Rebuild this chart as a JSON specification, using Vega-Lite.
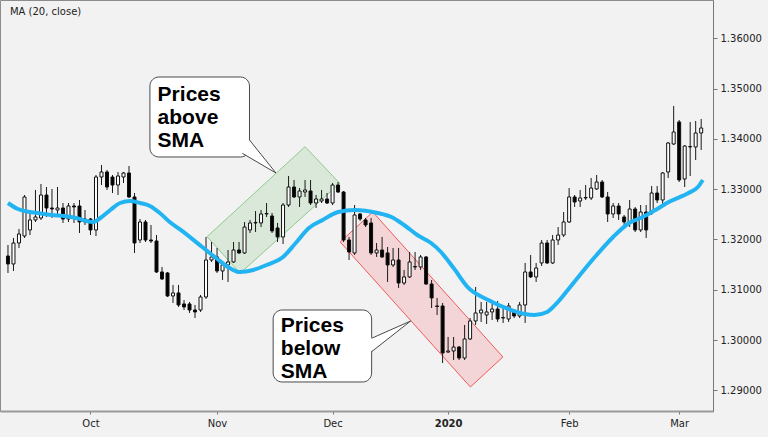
{
  "$schema": "https://vega.github.io/schema/vega-lite/v6.json",
  "width": 713,
  "height": 411,
  "autosize": {"type": "none"},
  "padding": {"left": 0, "top": 0, "right": 55, "bottom": 26},
  "background": "#f2f2f2",
  "config": {
    "view": {"stroke": "#8c8c8c", "strokeWidth": 1},
    "axis": {"labelFont": "DejaVu Sans", "labelFontSize": 10, "labelColor": "#222222", "grid": false, "title": null}
  },
  "datasets": {
    "candles": [
      {"i":0,"o":1.31672,"h":1.31891,"l":1.31334,"c":1.31513},
      {"i":1,"o":1.31513,"h":1.32030,"l":1.31374,"c":1.31930},
      {"i":2,"o":1.31930,"h":1.32209,"l":1.31831,"c":1.32109},
      {"i":3,"o":1.32069,"h":1.32884,"l":1.32030,"c":1.32845},
      {"i":4,"o":1.32189,"h":1.32527,"l":1.32089,"c":1.32388},
      {"i":5,"o":1.32388,"h":1.32984,"l":1.32348,"c":1.32447},
      {"i":6,"o":1.32427,"h":1.33103,"l":1.32388,"c":1.32884},
      {"i":7,"o":1.32884,"h":1.33043,"l":1.32447,"c":1.32626},
      {"i":8,"o":1.32626,"h":1.33004,"l":1.32427,"c":1.32606},
      {"i":9,"o":1.32586,"h":1.33043,"l":1.32447,"c":1.32626},
      {"i":10,"o":1.32626,"h":1.32725,"l":1.32328,"c":1.32407},
      {"i":11,"o":1.32407,"h":1.32725,"l":1.32348,"c":1.32666},
      {"i":12,"o":1.32666,"h":1.32725,"l":1.32328,"c":1.32646},
      {"i":13,"o":1.32666,"h":1.32785,"l":1.32129,"c":1.32348},
      {"i":14,"o":1.32348,"h":1.32586,"l":1.32288,"c":1.32407},
      {"i":15,"o":1.32407,"h":1.32427,"l":1.32089,"c":1.32189},
      {"i":16,"o":1.32189,"h":1.33282,"l":1.32069,"c":1.33242},
      {"i":17,"o":1.33242,"h":1.33481,"l":1.33083,"c":1.33342},
      {"i":18,"o":1.33342,"h":1.33382,"l":1.32984,"c":1.33043},
      {"i":19,"o":1.33242,"h":1.33282,"l":1.32924,"c":1.33083},
      {"i":20,"o":1.33083,"h":1.33342,"l":1.32884,"c":1.33262},
      {"i":21,"o":1.33242,"h":1.33342,"l":1.33123,"c":1.33322},
      {"i":22,"o":1.33322,"h":1.33461,"l":1.32825,"c":1.32845},
      {"i":23,"o":1.32845,"h":1.32924,"l":1.31732,"c":1.31930},
      {"i":24,"o":1.31990,"h":1.32407,"l":1.31930,"c":1.32348},
      {"i":25,"o":1.32348,"h":1.32388,"l":1.31950,"c":1.31990},
      {"i":26,"o":1.31990,"h":1.32288,"l":1.31930,"c":1.31970},
      {"i":27,"o":1.31970,"h":1.32089,"l":1.31334,"c":1.31354},
      {"i":28,"o":1.31354,"h":1.31453,"l":1.31195,"c":1.31215},
      {"i":29,"o":1.31334,"h":1.31354,"l":1.30857,"c":1.30877},
      {"i":30,"o":1.30877,"h":1.31096,"l":1.30738,"c":1.30937},
      {"i":31,"o":1.30937,"h":1.31096,"l":1.30658,"c":1.30698},
      {"i":32,"o":1.30718,"h":1.30797,"l":1.30598,"c":1.30658},
      {"i":33,"o":1.30718,"h":1.30758,"l":1.30539,"c":1.30598},
      {"i":34,"o":1.30598,"h":1.30698,"l":1.30439,"c":1.30559},
      {"i":35,"o":1.30598,"h":1.30897,"l":1.30559,"c":1.30857},
      {"i":36,"o":1.30857,"h":1.32050,"l":1.30817,"c":1.31592},
      {"i":37,"o":1.31592,"h":1.31950,"l":1.31553,"c":1.31652},
      {"i":38,"o":1.31652,"h":1.31831,"l":1.31334,"c":1.31374},
      {"i":39,"o":1.31374,"h":1.31553,"l":1.31195,"c":1.31493},
      {"i":40,"o":1.31493,"h":1.31791,"l":1.31155,"c":1.31553},
      {"i":41,"o":1.31553,"h":1.31950,"l":1.31533,"c":1.31791},
      {"i":42,"o":1.31791,"h":1.31950,"l":1.31712,"c":1.31732},
      {"i":43,"o":1.31732,"h":1.32348,"l":1.31712,"c":1.32248},
      {"i":44,"o":1.32189,"h":1.32388,"l":1.32129,"c":1.32328},
      {"i":45,"o":1.32328,"h":1.32566,"l":1.32149,"c":1.32338},
      {"i":46,"o":1.32328,"h":1.32586,"l":1.32248,"c":1.32507},
      {"i":47,"o":1.32507,"h":1.32725,"l":1.32447,"c":1.32517},
      {"i":48,"o":1.32467,"h":1.32527,"l":1.32129,"c":1.32169},
      {"i":49,"o":1.32229,"h":1.32328,"l":1.31950,"c":1.32050},
      {"i":50,"o":1.32050,"h":1.32725,"l":1.31910,"c":1.32685},
      {"i":51,"o":1.32685,"h":1.33262,"l":1.32646,"c":1.33043},
      {"i":52,"o":1.33043,"h":1.33183,"l":1.32825,"c":1.32845},
      {"i":53,"o":1.32845,"h":1.33023,"l":1.32646,"c":1.32964},
      {"i":54,"o":1.32944,"h":1.33183,"l":1.32845,"c":1.32984},
      {"i":55,"o":1.32964,"h":1.33183,"l":1.32685,"c":1.32725},
      {"i":56,"o":1.32725,"h":1.32884,"l":1.32626,"c":1.32805},
      {"i":57,"o":1.32765,"h":1.32984,"l":1.32725,"c":1.32805},
      {"i":58,"o":1.32805,"h":1.32924,"l":1.32705,"c":1.32725},
      {"i":59,"o":1.32725,"h":1.33123,"l":1.32685,"c":1.33083},
      {"i":60,"o":1.33083,"h":1.33143,"l":1.32924,"c":1.32944},
      {"i":61,"o":1.32944,"h":1.32964,"l":1.31950,"c":1.31990},
      {"i":62,"o":1.31990,"h":1.32050,"l":1.31592,"c":1.31751},
      {"i":63,"o":1.31732,"h":1.32685,"l":1.31692,"c":1.32487},
      {"i":64,"o":1.32507,"h":1.32527,"l":1.32368,"c":1.32407},
      {"i":65,"o":1.32388,"h":1.32427,"l":1.32248,"c":1.32288},
      {"i":66,"o":1.32328,"h":1.32427,"l":1.31692,"c":1.31732},
      {"i":67,"o":1.31732,"h":1.31930,"l":1.31652,"c":1.31791},
      {"i":68,"o":1.31791,"h":1.32050,"l":1.31632,"c":1.31652},
      {"i":69,"o":1.31732,"h":1.31851,"l":1.31155,"c":1.31493},
      {"i":70,"o":1.31493,"h":1.31831,"l":1.31453,"c":1.31592},
      {"i":71,"o":1.31592,"h":1.31831,"l":1.31036,"c":1.31135},
      {"i":72,"o":1.31135,"h":1.31394,"l":1.31096,"c":1.31255},
      {"i":73,"o":1.31255,"h":1.31751,"l":1.31235,"c":1.31553},
      {"i":74,"o":1.31453,"h":1.31751,"l":1.31394,"c":1.31463},
      {"i":75,"o":1.31453,"h":1.31692,"l":1.31394,"c":1.31652},
      {"i":76,"o":1.31652,"h":1.31672,"l":1.31096,"c":1.31115},
      {"i":77,"o":1.31115,"h":1.31195,"l":1.30638,"c":1.30837},
      {"i":78,"o":1.30678,"h":1.30837,"l":1.30499,"c":1.30668},
      {"i":79,"o":1.30678,"h":1.30738,"l":1.29544,"c":1.29743},
      {"i":80,"o":1.29763,"h":1.30062,"l":1.29743,"c":1.29783},
      {"i":81,"o":1.29783,"h":1.30062,"l":1.29604,"c":1.29862},
      {"i":82,"o":1.29862,"h":1.29882,"l":1.29604,"c":1.29644},
      {"i":83,"o":1.29644,"h":1.30300,"l":1.29604,"c":1.30022},
      {"i":84,"o":1.30022,"h":1.30439,"l":1.30002,"c":1.30380},
      {"i":85,"o":1.30380,"h":1.31056,"l":1.30300,"c":1.30539},
      {"i":86,"o":1.30539,"h":1.30758,"l":1.30360,"c":1.30598},
      {"i":87,"o":1.30499,"h":1.30758,"l":1.30320,"c":1.30559},
      {"i":88,"o":1.30559,"h":1.30797,"l":1.30399,"c":1.30618},
      {"i":89,"o":1.30618,"h":1.30778,"l":1.30360,"c":1.30419},
      {"i":90,"o":1.30439,"h":1.30638,"l":1.30340,"c":1.30449},
      {"i":91,"o":1.30419,"h":1.30738,"l":1.30360,"c":1.30678},
      {"i":92,"o":1.30559,"h":1.30598,"l":1.30439,"c":1.30479},
      {"i":93,"o":1.30479,"h":1.30758,"l":1.30439,"c":1.30698},
      {"i":94,"o":1.30698,"h":1.31533,"l":1.30340,"c":1.31354},
      {"i":95,"o":1.31354,"h":1.31692,"l":1.31235,"c":1.31255},
      {"i":96,"o":1.31255,"h":1.31533,"l":1.31155,"c":1.31433},
      {"i":97,"o":1.31533,"h":1.31990,"l":1.31473,"c":1.31930},
      {"i":98,"o":1.31930,"h":1.31990,"l":1.31513,"c":1.31533},
      {"i":99,"o":1.31533,"h":1.32089,"l":1.31513,"c":1.31990},
      {"i":100,"o":1.31990,"h":1.32248,"l":1.31891,"c":1.32089},
      {"i":101,"o":1.32089,"h":1.32546,"l":1.32050,"c":1.32348},
      {"i":102,"o":1.32348,"h":1.33023,"l":1.32328,"c":1.32845},
      {"i":103,"o":1.32845,"h":1.32884,"l":1.32646,"c":1.32745},
      {"i":104,"o":1.32765,"h":1.32984,"l":1.32646,"c":1.32825},
      {"i":105,"o":1.32825,"h":1.33083,"l":1.32785,"c":1.32835},
      {"i":106,"o":1.32825,"h":1.33222,"l":1.32785,"c":1.33023},
      {"i":107,"o":1.33004,"h":1.33282,"l":1.32984,"c":1.33143},
      {"i":108,"o":1.33143,"h":1.33183,"l":1.32825,"c":1.32845},
      {"i":109,"o":1.32845,"h":1.32944,"l":1.32348,"c":1.32507},
      {"i":110,"o":1.32507,"h":1.32725,"l":1.32427,"c":1.32666},
      {"i":111,"o":1.32666,"h":1.32725,"l":1.32388,"c":1.32507},
      {"i":112,"o":1.32447,"h":1.32487,"l":1.32288,"c":1.32348},
      {"i":113,"o":1.32348,"h":1.32785,"l":1.32248,"c":1.32606},
      {"i":114,"o":1.32606,"h":1.32646,"l":1.32149,"c":1.32189},
      {"i":115,"o":1.32189,"h":1.32685,"l":1.32149,"c":1.32546},
      {"i":116,"o":1.32546,"h":1.32685,"l":1.32030,"c":1.32189},
      {"i":117,"o":1.32527,"h":1.33063,"l":1.32487,"c":1.32924},
      {"i":118,"o":1.32924,"h":1.33063,"l":1.32725,"c":1.32785},
      {"i":119,"o":1.32785,"h":1.33342,"l":1.32685,"c":1.33322},
      {"i":120,"o":1.33342,"h":1.33938,"l":1.33222,"c":1.33918},
      {"i":121,"o":1.33898,"h":1.34654,"l":1.33878,"c":1.34137},
      {"i":122,"o":1.34336,"h":1.34376,"l":1.33143,"c":1.33183},
      {"i":123,"o":1.33202,"h":1.33878,"l":1.33043,"c":1.33858},
      {"i":124,"o":1.33839,"h":1.34336,"l":1.33262,"c":1.33849},
      {"i":125,"o":1.33839,"h":1.34356,"l":1.33580,"c":1.34117},
      {"i":126,"o":1.34117,"h":1.34395,"l":1.33779,"c":1.34216}
    ],
    "sma": [
      {"i":0,"v":1.32725},{"i":1.8,"v":1.32606},{"i":3,"v":1.32566},{"i":5.4,"v":1.32527},
      {"i":7.9,"v":1.32487},{"i":10.2,"v":1.32467},{"i":12.4,"v":1.32427},{"i":14.2,"v":1.32368},
      {"i":15.6,"v":1.32348},{"i":16.8,"v":1.32427},{"i":18.6,"v":1.32586},{"i":20.4,"v":1.32725},
      {"i":22.2,"v":1.32765},{"i":24,"v":1.32725},{"i":25.8,"v":1.32666},{"i":27.6,"v":1.32527},
      {"i":29.4,"v":1.32348},{"i":31.4,"v":1.32189},{"i":35.3,"v":1.31851},{"i":37.6,"v":1.31652},
      {"i":40.3,"v":1.31433},{"i":42.1,"v":1.31354},{"i":44.6,"v":1.31394},{"i":47,"v":1.31493},
      {"i":50,"v":1.31652},{"i":52.3,"v":1.31930},{"i":54.7,"v":1.32229},{"i":57.2,"v":1.32388},
      {"i":60,"v":1.32546},{"i":63,"v":1.32586},{"i":67.2,"v":1.32527},{"i":69.7,"v":1.32447},
      {"i":72,"v":1.32288},{"i":74.4,"v":1.32089},{"i":76.9,"v":1.31930},{"i":78.7,"v":1.31751},
      {"i":81,"v":1.31433},{"i":83.7,"v":1.31036},{"i":87.3,"v":1.30797},{"i":90.9,"v":1.30618},
      {"i":93.9,"v":1.30519},{"i":95.7,"v":1.30499},{"i":98,"v":1.30559},{"i":99.8,"v":1.30738},
      {"i":102.2,"v":1.31056},{"i":104.7,"v":1.31394},{"i":107,"v":1.31692},{"i":110,"v":1.32050},
      {"i":112.9,"v":1.32328},{"i":115.4,"v":1.32447},{"i":117.7,"v":1.32586},{"i":120.1,"v":1.32745},
      {"i":123.7,"v":1.32924},{"i":125.4,"v":1.33043},{"i":126.3,"v":1.33183}
    ],
    "zones": [
      {"z":"above","i":36.2,"top":1.32056,"bot":1.32056},
      {"z":"above","i":42.2,"top":1.32659,"bot":1.31328},
      {"z":"above","i":54.0,"top":1.33845,"bot":1.32494},
      {"z":"above","i":60.3,"top":1.33117,"bot":1.33117},
      {"z":"below","i":60.39,"top":1.31950,"bot":1.31950},
      {"z":"below","i":66.31,"top":1.32546,"bot":1.31228},
      {"z":"below","i":84.05,"top":1.30384,"bot":1.29067},
      {"z":"below","i":89.96,"top":1.29664,"bot":1.29664}
    ],
    "boxes": [
      {"b":"above","i1":25.8,"i2":43.9,"p1":1.35230,"p2":1.33640,"ti":27.2,"tp":1.35091,"txt":"Prices\nabove\nSMA"},
      {"b":"below","i1":48.2,"i2":66.1,"p1":1.30598,"p2":1.29167,"ti":49.6,"tp":1.30499,"txt":"Prices\nbelow\nSMA"}
    ],
    "tailfill": [
      {"b":"above","i":42.6,"top":1.33713,"bot":1.33713},
      {"b":"above","i":43.9,"top":1.33978,"bot":1.33640},
      {"b":"above","i":48.7,"top":1.33322,"bot":1.33322},
      {"b":"below","i":65.9,"top":1.30036,"bot":1.29769},
      {"b":"below","i":73.2,"top":1.30380,"bot":1.30380}
    ],
    "tailline": [
      {"b":"above","k":1,"i":43.9,"p":1.33978},
      {"b":"above","k":2,"i":48.7,"p":1.33322},
      {"b":"above","k":3,"i":42.6,"p":1.33713},
      {"b":"below","k":1,"i":66.1,"p":1.30036},
      {"b":"below","k":2,"i":73.2,"p":1.30380},
      {"b":"below","k":3,"i":66.1,"p":1.29769}
    ],
    "label": [{"i":0.36,"p":1.36522,"txt":"MA (20, close)"}]
  },
  "layer": [
    {
      "data": {"name": "zones"},
      "transform": [{"filter": "datum.z == 'above'"}],
      "mark": {"type": "area", "interpolate": "linear", "fill": "#c5e0c5", "fillOpacity": 0.55, "stroke": "#8dcb8d", "strokeWidth": 1},
      "encoding": {
        "x": {"field": "i", "type": "quantitative", "scale": {"domain": [-0.54, 127.24], "nice": false, "zero": false},
          "axis": {"orient": "bottom", "values": [15, 38, 59, 80, 102, 122],
            "labelExpr": "datum.value == 15 ? 'Oct' : datum.value == 38 ? 'Nov' : datum.value == 59 ? 'Dec' : datum.value == 80 ? '2020' : datum.value == 102 ? 'Feb' : 'Mar'",
            "labelFontWeight": {"condition": {"test": "datum.value == 80", "value": "bold"}, "value": "normal"},
            "domainColor": "#9a9a9a", "domainWidth": 2, "tickColor": "#777777", "tickSize": 3, "labelPadding": 4}},
        "y": {"field": "top", "type": "quantitative", "scale": {"domain": [1.2859, 1.36761], "nice": false, "zero": false},
          "axis": {"orient": "right", "values": [1.29, 1.30, 1.31, 1.32, 1.33, 1.34, 1.35, 1.36], "format": ".5f",
            "domainColor": "#777777", "tickColor": "#777777", "tickSize": 4, "labelPadding": 3}},
        "y2": {"field": "bot"}
      }
    },
    {
      "data": {"name": "zones"},
      "transform": [{"filter": "datum.z == 'below'"}],
      "mark": {"type": "area", "interpolate": "linear", "fill": "#f4b8bc", "fillOpacity": 0.5, "stroke": "#f05a5a", "strokeWidth": 1},
      "encoding": {
        "x": {"field": "i", "type": "quantitative", "scale": {"domain": [-0.54, 127.24], "nice": false, "zero": false}},
        "y": {"field": "top", "type": "quantitative", "scale": {"domain": [1.2859, 1.36761], "nice": false, "zero": false}},
        "y2": {"field": "bot"}
      }
    },
    {
      "data": {"name": "candles"},
      "mark": {"type": "rule", "color": "#1a1a1a", "strokeWidth": 1},
      "encoding": {
        "x": {"field": "i", "type": "quantitative", "scale": {"domain": [-0.54, 127.24], "nice": false, "zero": false}},
        "y": {"field": "l", "type": "quantitative", "scale": {"domain": [1.2859, 1.36761], "nice": false, "zero": false}},
        "y2": {"field": "h"}
      }
    },
    {
      "data": {"name": "candles"},
      "mark": {"type": "bar", "size": 3, "stroke": "#111111", "strokeWidth": 1},
      "encoding": {
        "x": {"field": "i", "type": "quantitative", "scale": {"domain": [-0.54, 127.24], "nice": false, "zero": false}},
        "y": {"field": "o", "type": "quantitative", "scale": {"domain": [1.2859, 1.36761], "nice": false, "zero": false}},
        "y2": {"field": "c"},
        "fill": {"condition": {"test": "datum.c < datum.o", "value": "#000000"}, "value": "#ffffff"}
      }
    },
    {
      "data": {"name": "sma"},
      "mark": {"type": "line", "interpolate": "monotone", "color": "#22b4f2", "strokeWidth": 4},
      "encoding": {
        "x": {"field": "i", "type": "quantitative", "scale": {"domain": [-0.54, 127.24], "nice": false, "zero": false}},
        "y": {"field": "v", "type": "quantitative", "scale": {"domain": [1.2859, 1.36761], "nice": false, "zero": false}}
      }
    },
    {
      "data": {"name": "boxes"},
      "mark": {"type": "rect", "cornerRadius": 9, "fill": "#ffffff", "stroke": "#4a4a4a", "strokeWidth": 1},
      "encoding": {
        "x": {"field": "i1", "type": "quantitative", "scale": {"domain": [-0.54, 127.24], "nice": false, "zero": false}},
        "x2": {"field": "i2"},
        "y": {"field": "p1", "type": "quantitative", "scale": {"domain": [1.2859, 1.36761], "nice": false, "zero": false}},
        "y2": {"field": "p2"}
      }
    },
    {
      "data": {"name": "tailfill"},
      "mark": {"type": "area", "interpolate": "linear", "fill": "#ffffff", "fillOpacity": 1},
      "encoding": {
        "x": {"field": "i", "type": "quantitative", "scale": {"domain": [-0.54, 127.24], "nice": false, "zero": false}},
        "y": {"field": "top", "type": "quantitative", "scale": {"domain": [1.2859, 1.36761], "nice": false, "zero": false}},
        "y2": {"field": "bot"},
        "detail": {"field": "b"}
      }
    },
    {
      "data": {"name": "tailline"},
      "mark": {"type": "line", "interpolate": "linear", "color": "#4a4a4a", "strokeWidth": 1},
      "encoding": {
        "x": {"field": "i", "type": "quantitative", "scale": {"domain": [-0.54, 127.24], "nice": false, "zero": false}},
        "y": {"field": "p", "type": "quantitative", "scale": {"domain": [1.2859, 1.36761], "nice": false, "zero": false}},
        "detail": {"field": "b"},
        "order": {"field": "k"}
      }
    },
    {
      "data": {"name": "boxes"},
      "mark": {"type": "text", "align": "left", "baseline": "top", "font": "Liberation Sans", "fontWeight": "bold", "fontSize": 21, "lineHeight": 23, "lineBreak": "\n", "color": "#000000"},
      "encoding": {
        "x": {"field": "ti", "type": "quantitative", "scale": {"domain": [-0.54, 127.24], "nice": false, "zero": false}},
        "y": {"field": "tp", "type": "quantitative", "scale": {"domain": [1.2859, 1.36761], "nice": false, "zero": false}},
        "text": {"field": "txt"}
      }
    },
    {
      "data": {"name": "label"},
      "mark": {"type": "text", "align": "left", "baseline": "middle", "font": "DejaVu Sans", "fontSize": 10, "color": "#222222"},
      "encoding": {
        "x": {"field": "i", "type": "quantitative", "scale": {"domain": [-0.54, 127.24], "nice": false, "zero": false}},
        "y": {"field": "p", "type": "quantitative", "scale": {"domain": [1.2859, 1.36761], "nice": false, "zero": false}},
        "text": {"field": "txt"}
      }
    }
  ]
}
